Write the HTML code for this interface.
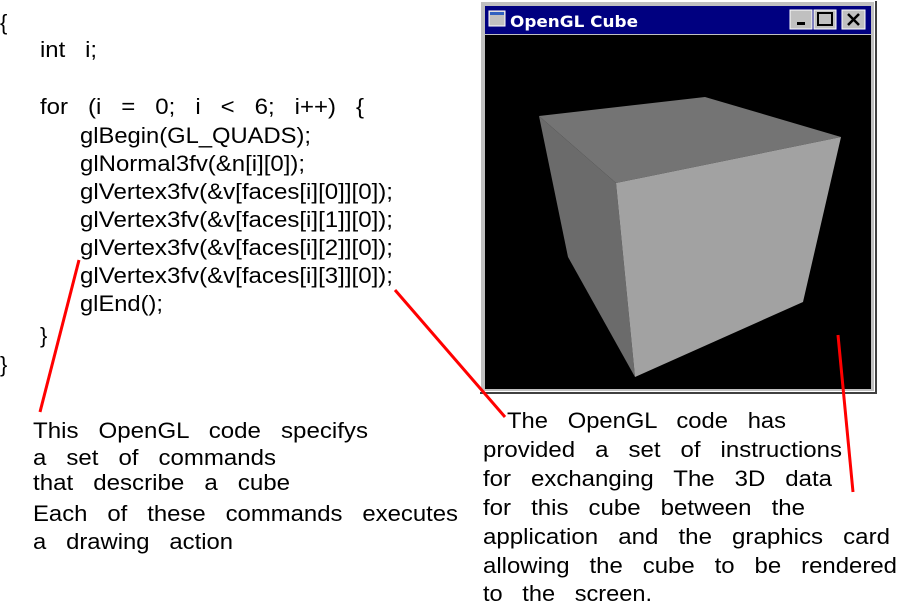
<!DOCTYPE html>
<html><head><meta charset="utf-8"><style>
html,body{margin:0;padding:0;background:#fff;}
svg{display:block;}
text{font-family:"Liberation Sans",Arial,sans-serif;font-size:22px;fill:#000;white-space:pre;}
</style></head><body>
<svg width="897" height="605" viewBox="0 0 897 605" xmlns="http://www.w3.org/2000/svg" xml:space="preserve">
<rect x="480" y="1" width="397" height="393" fill="#404040"/>
<rect x="480" y="1" width="395" height="391" fill="#fff"/>
<rect x="481" y="2" width="393" height="389" fill="#c0c0c0"/>
<rect x="485" y="6" width="386" height="28" fill="#000080"/>
<rect x="489" y="11" width="16" height="15" fill="#c0c0c0" stroke="#fff" stroke-width="1"/>
<rect x="490" y="12" width="14" height="3" fill="#3060c0"/>
<text x="510" y="27" style="font-size:16px;font-weight:bold;fill:#fff;font-family:'DejaVu Sans',sans-serif" textLength="128" lengthAdjust="spacingAndGlyphs">OpenGL Cube</text>
<rect x="790" y="10" width="22" height="19" fill="#c0c0c0" stroke="#fff"/>
<rect x="797" y="22" width="8" height="3" fill="#000"/>
<rect x="814" y="10" width="22" height="19" fill="#c0c0c0" stroke="#fff"/>
<rect x="818" y="13" width="14" height="12" fill="none" stroke="#000" stroke-width="2"/>
<rect x="842" y="10" width="23" height="19" fill="#c0c0c0" stroke="#fff"/>
<path d="M848 14 L859 25 M859 14 L848 25" stroke="#000" stroke-width="2.5"/>
<rect x="485" y="35" width="386" height="354" fill="#000"/>
<polygon points="539,116 616,183 635,377 568,257" fill="#6b6b6b"/>
<polygon points="539,116 705,97 841,137 616,183" fill="#747474"/>
<polygon points="616,183 841,137 803,302 635,377" fill="#a2a2a2"/>
<g stroke="#ff0000" stroke-width="3" fill="none">
<line x1="79" y1="260" x2="40" y2="412"/>
<line x1="395" y1="290" x2="505" y2="417"/>
<line x1="838" y1="335" x2="853" y2="492"/>
</g>
<text x="0" y="30">{</text>
<text x="40" y="57" textLength="57" lengthAdjust="spacingAndGlyphs">int   i;</text>
<text x="40" y="114" textLength="324" lengthAdjust="spacingAndGlyphs">for   (i   =   0;   i   &lt;   6;   i++)   {</text>
<text x="80" y="143" textLength="231" lengthAdjust="spacingAndGlyphs">glBegin(GL_QUADS);</text>
<text x="80" y="171" textLength="225" lengthAdjust="spacingAndGlyphs">glNormal3fv(&amp;n[i][0]);</text>
<text x="80" y="199" textLength="313" lengthAdjust="spacingAndGlyphs">glVertex3fv(&amp;v[faces[i][0]][0]);</text>
<text x="80" y="227" textLength="313" lengthAdjust="spacingAndGlyphs">glVertex3fv(&amp;v[faces[i][1]][0]);</text>
<text x="80" y="255" textLength="313" lengthAdjust="spacingAndGlyphs">glVertex3fv(&amp;v[faces[i][2]][0]);</text>
<text x="80" y="283" textLength="313" lengthAdjust="spacingAndGlyphs">glVertex3fv(&amp;v[faces[i][3]][0]);</text>
<text x="80" y="311" textLength="83" lengthAdjust="spacingAndGlyphs">glEnd();</text>
<text x="40" y="343">}</text>
<text x="0" y="372">}</text>
<text x="33" y="438" textLength="335" lengthAdjust="spacingAndGlyphs">This   OpenGL   code   specifys</text>
<text x="33" y="465" textLength="243" lengthAdjust="spacingAndGlyphs">a   set   of   commands</text>
<text x="33" y="490" textLength="257" lengthAdjust="spacingAndGlyphs">that   describe   a   cube</text>
<text x="33" y="521" textLength="425" lengthAdjust="spacingAndGlyphs">Each   of   these   commands   executes</text>
<text x="33" y="549" textLength="200" lengthAdjust="spacingAndGlyphs">a   drawing   action</text>
<text x="507" y="428" textLength="279" lengthAdjust="spacingAndGlyphs">The   OpenGL   code   has</text>
<text x="483" y="457" textLength="359" lengthAdjust="spacingAndGlyphs">provided   a   set   of   instructions</text>
<text x="483" y="486" textLength="349" lengthAdjust="spacingAndGlyphs">for   exchanging   The   3D   data</text>
<text x="483" y="515" textLength="322" lengthAdjust="spacingAndGlyphs">for   this   cube   between   the</text>
<text x="483" y="544" textLength="407" lengthAdjust="spacingAndGlyphs">application   and   the   graphics   card</text>
<text x="483" y="573" textLength="414" lengthAdjust="spacingAndGlyphs">allowing   the   cube   to   be   rendered</text>
<text x="483" y="601" textLength="169" lengthAdjust="spacingAndGlyphs">to   the   screen.</text>
</svg>
</body></html>
